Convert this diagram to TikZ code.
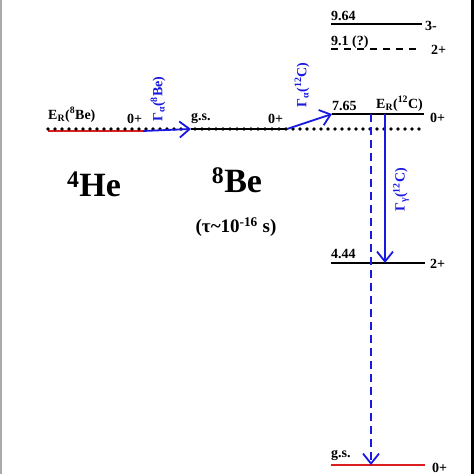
\documentclass[tikz,border=0pt]{standalone}
\usepackage{fontspec}
\setmainfont{Liberation Serif}
\usetikzlibrary{arrows.meta}
\definecolor{lblue}{RGB}{25,25,225}
\definecolor{lred}{RGB}{220,30,30}
\definecolor{lgray}{RGB}{170,170,170}
\begin{document}
\begin{tikzpicture}[x=1pt,y=-1pt,
  lev/.style={line width=1.8pt,black},
  levred/.style={line width=1.8pt,lred},
  dotline/.style={line width=3.8pt,dash pattern=on 0pt off 7pt,line cap=round},
  tr/.style={line width=1.8pt,lblue,-{Straight Barb[length=10pt,width=16pt,line width=1.8pt]}},
  trdash/.style={tr,dash pattern=on 8pt off 5pt},
  lbl/.style={inner sep=0pt,font=\fontsize{14}{16}\selectfont\bfseries},
  glbl/.style={lbl,lblue,rotate=90},
  big/.style={inner sep=0pt,font=\fontsize{34}{38}\selectfont\bfseries}]
\useasboundingbox (0,0) rectangle (474,474);
\fill[lgray] (0,0) rectangle (2,474);
\fill[black] (471,0) rectangle (474,474);
% coordinates of levels
\coordinate (redL) at (48,131);
\coordinate (redR) at (143,131);
\coordinate (dotL) at (48,129);
\coordinate (dotR) at (425,129);
\coordinate (beL) at (191,129);
\coordinate (beR) at (287,129);
\coordinate (cL) at (332,114);
\coordinate (cR) at (424,114);
\coordinate (cG) at (385,114);
\coordinate (cD) at (371,114);
\coordinate (fL) at (331,263);
\coordinate (fR) at (425,263);
\coordinate (fG) at (385,263);
\coordinate (gL) at (331,465);
\coordinate (gR) at (425,465);
\coordinate (gD) at (371,465);
\coordinate (nL) at (331,24);
\coordinate (nR) at (422,24);
\coordinate (hL) at (331,49);
\coordinate (hR) at (422,49);
% levels
\draw[levred] (redL) -- (redR);
\draw[lev] (beL) -- (beR);
\draw[lev] (cL) -- (cR);
\draw[lev] (fL) -- (fR);
\draw[levred] (gL) -- (gR);
\draw[lev] (nL) -- (nR);
\draw[lev,dash pattern=on 7pt off 6pt] (hL) -- (hR);
\draw[dotline] (dotL) -- (dotR);
% transitions
\draw[tr] (redR) -- (beL);
\draw[tr] (beR) -- (cL);
\draw[tr] (cG) -- (fG);
\draw[trdash] (cD) -- (gD);
% labels
\node[lbl,anchor=base west] (erbe) at (48,119) {E\textsubscript{R}(\textsuperscript{8}Be)};
\node[lbl,anchor=base west] (he0) at (127,123) {0+};
\node[lbl,anchor=base west] (begs) at (191,120) {g.s.};
\node[lbl,anchor=base west] (be0) at (268,123) {0+};
\node[lbl,anchor=base west] (l765) at (332,110) {7.65};
\node[lbl,anchor=base west] (erc) at (376,108) {E\textsubscript{R}(\textsuperscript{12}C)};
\node[lbl,anchor=base west] (c0) at (430,122) {0+};
\node[lbl,anchor=base west] (l444) at (331,258) {4.44};
\node[lbl,anchor=base west] (c2) at (430,268) {2+};
\node[lbl,anchor=base west] (cgs) at (331,457) {g.s.};
\node[lbl,anchor=base west] (cg0) at (432,472) {0+};
\node[lbl,anchor=base west] (l964) at (331,20) {9.64};
\node[lbl,anchor=base west] (c3) at (425,30) {3-};
\node[lbl,anchor=base west] (l91) at (331,45) {9.1 (?)};
\node[lbl,anchor=base west] (c2b) at (431,54) {2+};
\node[glbl] (ga8) at (158,99) {Γ\textsubscript{α}(\textsuperscript{8}Be)};
\node[glbl] (ga12) at (302,85) {Γ\textsubscript{α}(\textsuperscript{12}C)};
\node[glbl] (gg12) at (401,190) {Γ\textsubscript{γ}(\textsuperscript{12}C)};
\node[big] (he4) at (94,184) {\textsuperscript{4}He};
\node[big] (be8) at (237,180) {\textsuperscript{8}Be};
\node[lbl,font=\fontsize{19}{22}\selectfont\bfseries] (tau) at (236,227) {(τ\textasciitilde10\textsuperscript{-16} s)};
\end{tikzpicture}
\end{document}
